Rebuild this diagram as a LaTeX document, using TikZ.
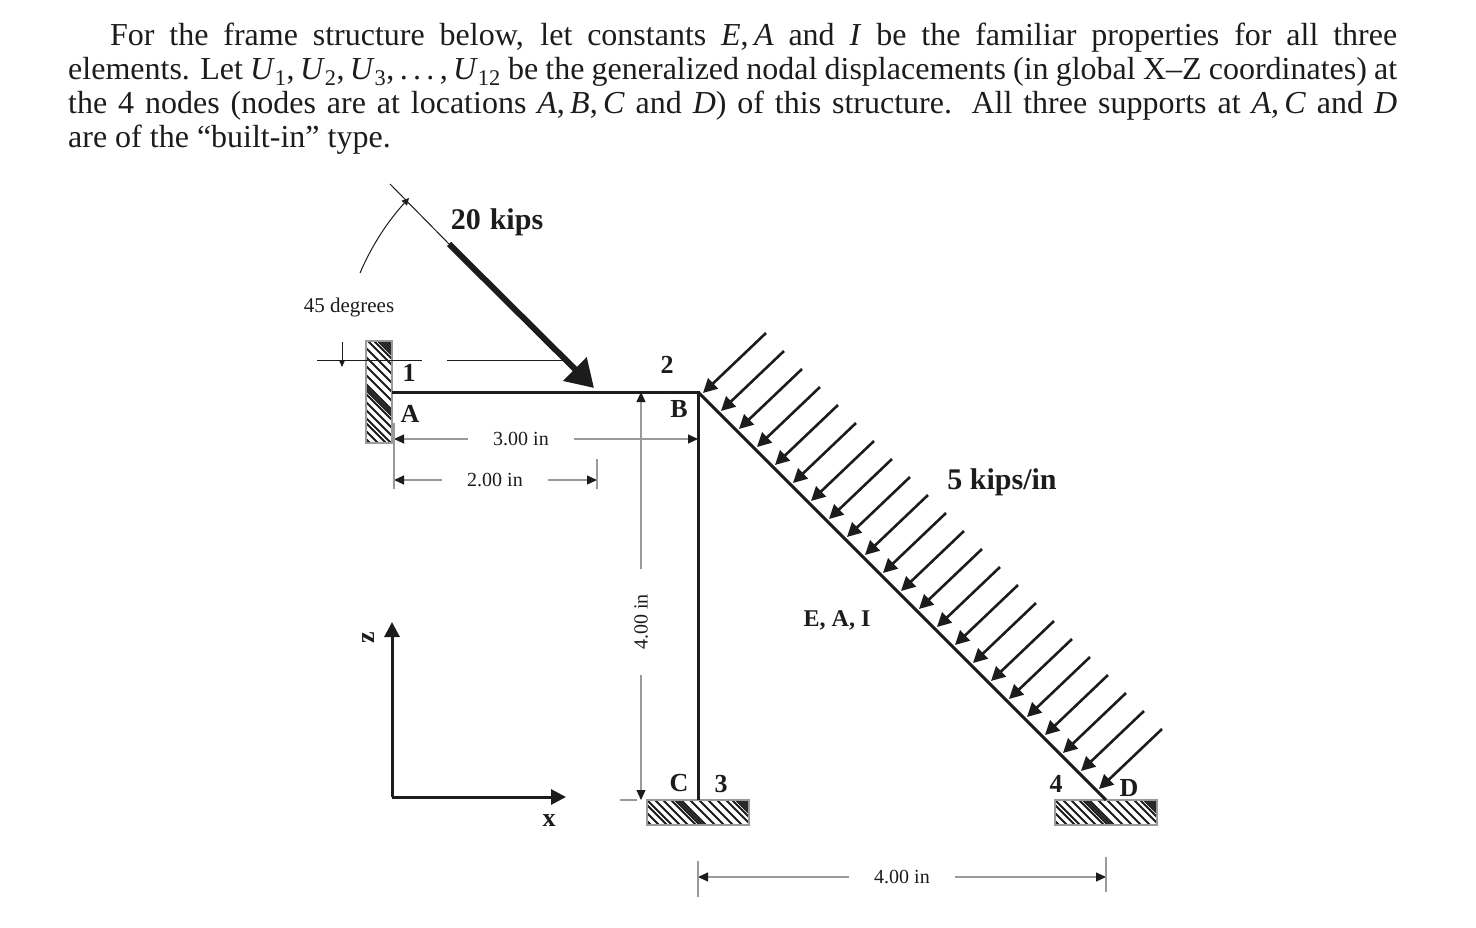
\documentclass[tikz,border=0pt]{standalone}
\usepackage{fontspec}
\setmainfont{Liberation Serif}
\usetikzlibrary{arrows.meta}
\definecolor{DIM}{HTML}{9A9A9A}
\definecolor{INK}{HTML}{1C1C1C}
\tikzset{
	every node/.style = {inner sep=0pt, text=INK},
	member/.style = {line width=3pt, draw=INK},
	dimline/.style = {line width=1.1pt, draw=DIM, -{Triangle[length=10pt,width=9pt,color=INK,fill=INK]}},
	extline/.style = {line width=1.1pt, draw=DIM},
	thinline/.style = {line width=1pt, draw=INK},
	loadarrow/.style = {line width=2.6pt, draw=INK, -{Triangle[length=14pt,width=14pt,fill=INK]}},
	axisarrow/.style = {line width=3pt, draw=INK, -{Triangle[length=15pt,width=15pt,fill=INK]}},
	dimlabel/.style = {font=\fontsize{20}{22}\selectfont, inner xsep=25pt},
	biglabel/.style = {font=\fontsize{30}{32}\selectfont\bfseries},
	numlabel/.style = {font=\fontsize{26}{28}\selectfont\bfseries}
}
\newcommand{\hatchlist}{4,12,20,25,33,41,49,53,56,59,68,77,86,95,104,110,114,117,120,123,126}
\newcommand{\hatchbox}[4]{
	\begin{scope}
		\clip (#1,#2) rectangle (#3,#4);
		\foreach \d in \hatchlist {
			\draw[line width=1.8pt, draw=INK] (#1+\d-#4+#2,#2) -- ++(#4-#2,#4-#2);
		}
	\end{scope}
	\draw[extline] (#1,#2) rectangle (#3,#4);
}
\begin{document}
\begin{tikzpicture}[x=1pt, y=-1pt]
	\useasboundingbox (0,0) rectangle (1476,928);
	% statement
	\node (statement) [anchor=north west, text width=1329pt, align=justify,
		font=\fontsize{32}{34}\selectfont] at (68,23)
		{\hspace*{42pt}For the frame structure below, let constants \textit{E},\,\textit{A} and \textit{I} be the familiar properties for all three\linebreak
		elements. Let \textit{U}\textsubscript{1},\,\textit{U}\textsubscript{2},\,\textit{U}\textsubscript{3},\,.\,.\,.\,,\,\textit{U}\textsubscript{12} be the generalized nodal displacements (in global X--Z coordinates) at\linebreak
		the 4 nodes (nodes are at locations \textit{A},\,\textit{B},\,\textit{C} and \textit{D}) of this structure. All three supports at \textit{A},\,\textit{C} and \textit{D}\linebreak
		are of the ``built-in'' type.};
	% supports
	\hatchbox{366}{341}{392}{443}
	\hatchbox{647}{800}{749}{825}
	\hatchbox{1055}{800}{1157}{825}
	% frame
	\coordinate (A) at (392,392);
	\coordinate (B) at (698,392);
	\coordinate (C) at (698,800);
	\coordinate (D) at (1106,800);
	\draw[member, line join=miter] (A) -- (B) -- (C);
	\draw[member] (B) -- (D);
	% distributed load
	\foreach \i in {0,...,22} {
		\draw[loadarrow] (766+18*\i,333+18*\i) -- (703+18*\i,393+18*\i);
	}
	% point load
	\coordinate (forcetop) at (390,184);
	\coordinate (forcemid) at (449,244);
	\coordinate (forcetip) at (594,388);
	\draw[thinline] (forcetop) -- (forcemid);
	\draw[line width=6pt, draw=INK, -{Triangle[length=27pt,width=32pt,fill=INK]}] (forcemid) -- (forcetip);
	% angle
	\coordinate (arcstart) at (360,273);
	\coordinate (arcend) at (409,198);
	\draw[thinline, -{Triangle[length=7pt,width=7pt,fill=INK]}] (arcstart) .. controls (372,245) and (388,221) .. (arcend);
	\coordinate (refa) at (317,360);
	\coordinate (refb) at (422,360);
	\coordinate (refc) at (447,360);
	\coordinate (refd) at (567,360);
	\draw[thinline] (refa) -- (refb) (refc) -- (refd);
	\coordinate (ticktop) at (342,342);
	\coordinate (tickend) at (342,367);
	\draw[thinline, -{Triangle[length=7pt,width=6pt,fill=INK]}] (ticktop) -- (tickend);
	% dimensions
	\node (three) [dimlabel] at (521,439) {3.00 in};
	\node (two) [dimlabel] at (495,480) {2.00 in};
	\node (vert) [dimlabel, rotate=90] at (641,622) {4.00 in};
	\node (horiz) [dimlabel] at (902,877) {4.00 in};
	\coordinate (threeL) at (394,439);
	\coordinate (threeR) at (698,439);
	\coordinate (twoL) at (394,480);
	\coordinate (twoR) at (597,480);
	\coordinate (vertT) at (641,392);
	\coordinate (vertB) at (641,800);
	\coordinate (horizL) at (698,877);
	\coordinate (horizR) at (1106,877);
	\draw[dimline] (three.west) -- (threeL);
	\draw[dimline] (three.east) -- (threeR);
	\draw[dimline] (two.west) -- (twoL);
	\draw[dimline] (two.east) -- (twoR);
	\draw[dimline] (vert.east) -- (vertT);
	\draw[dimline] (vert.west) -- (vertB);
	\draw[dimline] (horiz.west) -- (horizL);
	\draw[dimline] (horiz.east) -- (horizR);
	\draw[extline] (394,423) -- (394,489);
	\draw[extline] (597,459) -- (597,489);
	\draw[extline] (620,800) -- (637,800);
	\draw[extline] (698,861) -- (698,897);
	\draw[extline] (1106,857) -- (1106,892);
	% axes
	\coordinate (origin) at (392,797);
	\coordinate (zend) at (392,622);
	\coordinate (xend) at (566,797);
	\draw[axisarrow] (origin) -- (zend);
	\draw[axisarrow] (origin) -- (xend);
	\node (zlabel) [numlabel, rotate=90] at (369,638) {z};
	\node (xlabel) [numlabel] at (549,821) {x};
	% labels
	\node (force) [biglabel] at (497,222) {20\hspace{.3em}kips};
	\node (load) [biglabel] at (1002,482) {5 kips/in};
	\node (angle) [font=\fontsize{21}{24}\selectfont] at (349,307) {45 degrees};
	\node (props) [font=\fontsize{24}{28}\selectfont\bfseries] at (837,620) {E, A, I};
	\node (labone) [numlabel] at (409,373) {1};
	\node (labA) [numlabel] at (410,414) {A};
	\node (labtwo) [numlabel] at (667,365) {2};
	\node (labB) [numlabel] at (679,409) {B};
	\node (labC) [numlabel] at (679,783) {C};
	\node (labthree) [numlabel] at (721,784) {3};
	\node (labfour) [numlabel] at (1056,784) {4};
	\node (labD) [numlabel] at (1129,788) {D};
\end{tikzpicture}
\end{document}
